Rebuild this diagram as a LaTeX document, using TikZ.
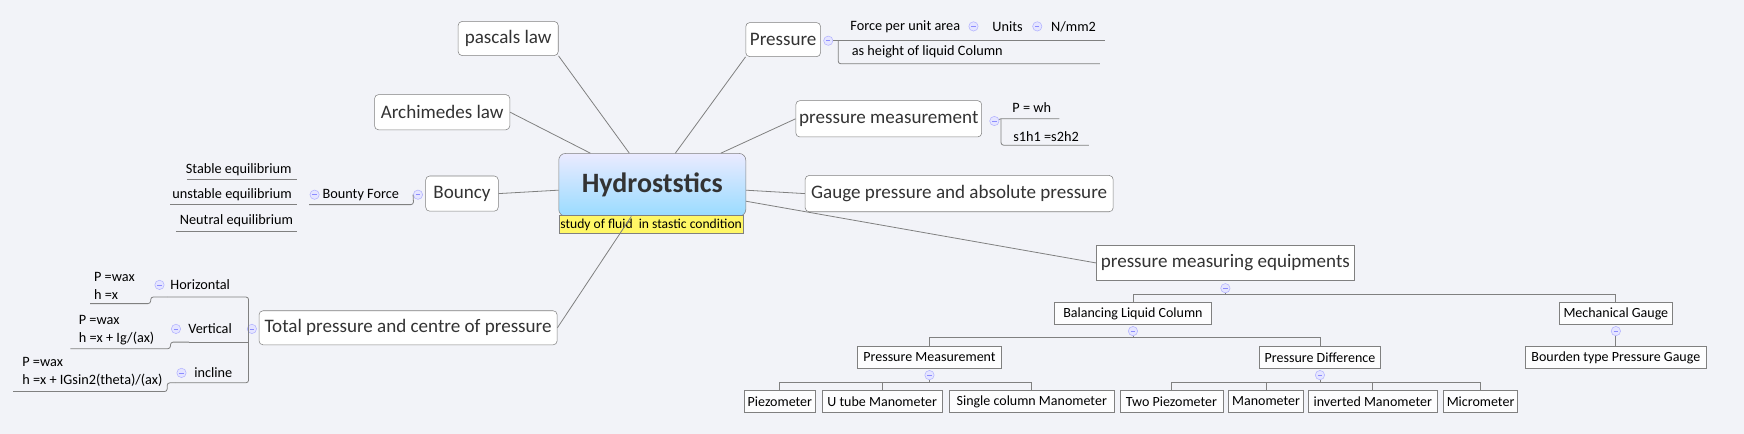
\documentclass[tikz,border=0pt]{standalone}
\usepackage{fontspec}
\setmainfont{Carlito}
\definecolor{bg}{HTML}{F2F3F8}
\definecolor{ln}{HTML}{808080}
\definecolor{tx}{HTML}{333333}
\begin{document}
\begin{tikzpicture}[x=0.825pt,y=-0.825pt,
  topic/.style={draw=ln,fill=white,rounded corners=3pt,text=tx,font=\fontsize{14.3}{16}\selectfont,inner sep=0pt},
  eqbox/.style={draw=ln,fill=white!85!bg,text=black,font=\fontsize{10.5}{12}\selectfont,inner sep=0pt,minimum height=20*0.825pt},
  lbl/.style={text=black,font=\fontsize{10.7}{12}\selectfont,inner sep=0pt,align=left},
  conn/.style={draw=ln,line width=0.6pt},
  col/.style={circle,draw=blue!30,fill=blue!10,minimum size=7pt,inner sep=0pt,
    path picture={\draw[blue!45,line width=0.4pt]([xshift=-1.6pt]path picture bounding box.center)--([xshift=1.6pt]path picture bounding box.center);}}]
\fill[bg] (0,0) rectangle (1585.5,394.5);
\useasboundingbox (0,0) rectangle (1585.5,394.5);
% central
\node[draw=ln,rounded corners=5pt,top color=blue!8,bottom color=blue!35!cyan!40,minimum width=170*0.825pt,minimum height=57*0.825pt,
  text=tx,font=\fontsize{21}{24}\selectfont\bfseries] (hyd) at (593,168) {Hydroststics};
\node[draw=ln,fill=yellow!60,minimum width=168*0.825pt,minimum height=16*0.825pt,inner sep=0pt,font=\fontsize{10.2}{11}\selectfont] (note) at (592,204) {study of fluid\ \ in stastic condition};
% main topics
\node[topic,minimum width=91*0.825pt,minimum height=31*0.825pt] (pascal) at (462,35) {pascals law};
\node[topic,minimum width=123*0.825pt,minimum height=32*0.825pt] (arch) at (402,102) {Archimedes law};
\node[topic,minimum width=66*0.825pt,minimum height=32*0.825pt] (bouncy) at (420,176) {Bouncy};
\node[topic,minimum width=271*0.825pt,minimum height=31*0.825pt] (total) at (371,298) {Total pressure and centre of pressure};
\node[topic,minimum width=68*0.825pt,minimum height=31*0.825pt] (press) at (712,36) {Pressure};
\node[topic,minimum width=169*0.825pt,minimum height=33*0.825pt] (pm) at (808,108) {pressure measurement};
\node[topic,minimum width=280*0.825pt,minimum height=33*0.825pt] (gauge) at (872,176) {Gauge pressure and absolute pressure};
\node[topic,rounded corners=0pt,minimum width=235*0.825pt,minimum height=32*0.825pt] (pme) at (1114,239) {pressure measuring equipments};
\foreach \t/\a in {pascal/south east,arch/east,bouncy/east,total/east,press/south west,pm/west,gauge/west,pme/west}
  \draw[conn] (hyd) -- (\t.\a);
% Pressure children
\node[col] (c1) at (753,37) {};
\node[lbl] (fpua) at (823,24) {Force per unit area};
\node[col] (c2) at (885,24) {};
\node[lbl] (units) at (916,24) {Units};
\node[col] (c3) at (943,24) {};
\node[lbl] (nmm) at (976,24) {N/mm2};
\node[lbl] (ahlc) at (843,47) {as height of liquid Column};
\draw[conn] (c1) -- (762,37) -- (1005,37);
\draw[conn,rounded corners=2pt] (762,37) -- (762,58) -- (1000,58);
% pressure measurement children
\node[col] (c4) at (904,110) {};
\node[lbl] (pwh) at (938,98) {P = wh};
\node[lbl] (s1) at (951,124) {s1h1 =s2h2};
\draw[conn] (c4) -- (910,108) -- (963,108);
\draw[conn,rounded corners=2pt] (910,108) -- (910,132) -- (990,132);
% Bouncy children
\node[col] (c5) at (380,177) {};
\node[lbl] (bf) at (328,177) {Bounty Force};
\node[col] (c6) at (286,177) {};
\draw[conn,rounded corners=2pt] (c5.west) -- (376,186) -- (281,186);
\node[lbl] (se) at (217,154) {Stable equilibrium};
\node[lbl] (ue) at (211,177) {unstable equilibrium};
\node[lbl] (ne) at (215,201) {Neutral equilibrium};
\draw[conn] (170,163) -- (270,163);
\draw[conn] (155,186) -- (270,186);
\draw[conn] (160,210) -- (270,210);
% Total children
\node[col] (c7) at (229,299) {};
\draw[conn,rounded corners=2pt] (152,270) -- (226,270) -- (226,348) -- (160,348);
\draw[conn,rounded corners=2pt] (172,311) -- (226,311);
\node[lbl] (hor) at (182,259) {Horizontal};
\node[col] (c8) at (145,259) {};
\node[lbl] (hor1) at (104,260) {P =wax\\[2pt]h =x};
\draw[conn,rounded corners=2pt] (152,270) -- (137,270) -- (137,276) -- (82,276);
\node[lbl] (ver) at (191,299) {Vertical};
\node[col] (c9) at (160,299) {};
\node[lbl] (ver1) at (106,300) {P =wax\\[2pt]h =x + Ig/(ax)};
\draw[conn,rounded corners=2pt] (172,311) -- (155,311) -- (155,317) -- (64,317);
\node[lbl] (inc) at (194,339) {incline};
\node[col] (c10) at (165,339) {};
\node[lbl] (inc1) at (84,338) {P =wax\\[2pt]h =x + IGsin2(theta)/(ax)};
\draw[conn,rounded corners=2pt] (160,348) -- (152,348) -- (152,356) -- (12,356);
% equipment tree
\node[eqbox,minimum width=143*0.825pt] (blc) at (1030,285) {Balancing Liquid Column};
\node[eqbox,minimum width=103*0.825pt] (mg) at (1469,285) {Mechanical Gauge};
\node[eqbox,minimum width=165*0.825pt] (bt) at (1469,325) {Bourden type Pressure Gauge};
\node[eqbox,minimum width=131*0.825pt] (pmeas) at (845,325) {Pressure Measurement};
\node[eqbox,minimum width=110*0.825pt] (pdiff) at (1200,325) {Pressure Difference};
\node[eqbox,minimum width=65*0.825pt] (piezo) at (709,365) {Piezometer};
\node[eqbox,minimum width=109*0.825pt] (utube) at (802,365) {U tube Manometer};
\node[eqbox,minimum width=150*0.825pt] (single) at (938,365) {Single column Manometer};
\node[eqbox,minimum width=94*0.825pt] (twop) at (1065,365) {Two Piezometer};
\node[eqbox,minimum width=68*0.825pt] (mano) at (1151,365) {Manometer};
\node[eqbox,minimum width=117*0.825pt] (inv) at (1248,365) {inverted Manometer};
\node[eqbox,minimum width=67*0.825pt] (micro) at (1346,365) {Micrometer};
\node[col] (c11) at (1114,262) {};
\draw[conn] (c11) -- (1114,268);
\draw[conn] (blc.north) -- (1030,268) -- (1469,268) -- (mg.north);
\node[col] (c12) at (1030,301) {};
\draw[conn] (c12) -- (1030,307);
\draw[conn] (pmeas.north) -- (845,307) -- (1200,307) -- (pdiff.north);
\node[col] (c13) at (845,341) {};
\draw[conn] (c13) -- (845,348);
\draw[conn] (piezo.north) -- (709,348) -- (938,348) -- (single.north);
\draw[conn] (utube.north) -- (802,348);
\node[col] (c14) at (1200,341) {};
\draw[conn] (c14) -- (1200,348);
\draw[conn] (twop.north) -- (1065,348) -- (1346,348) -- (micro.north);
\draw[conn] (mano.north) -- (1151,348);
\draw[conn] (inv.north) -- (1248,348);
\node[col] (c15) at (1469,301) {};
\draw[conn] (c15) -- (bt.north);
\end{tikzpicture}
\end{document}
